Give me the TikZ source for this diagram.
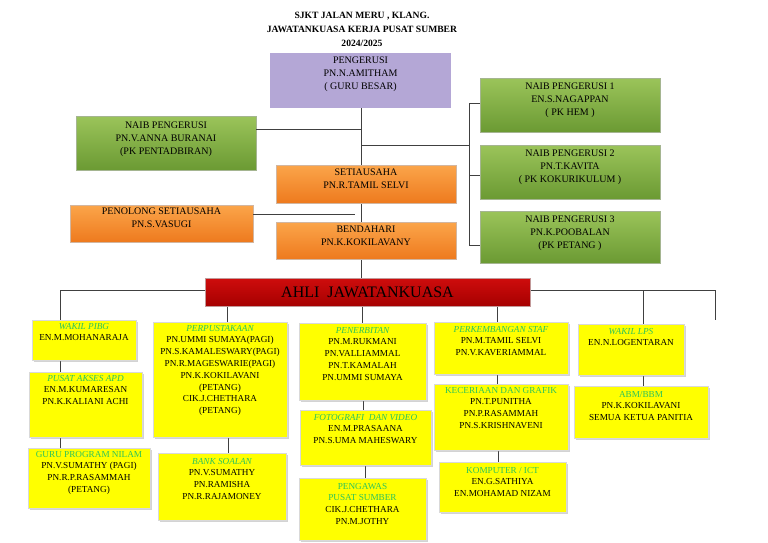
\documentclass[tikz,border=0pt]{standalone}
\usepackage{fontspec}
\setmainfont{Liberation Serif}
\usetikzlibrary{shadows}
\definecolor{yel}{HTML}{FFFF00}
\definecolor{hdg}{HTML}{2EC45A}
\definecolor{lav}{HTML}{B4A7D6}
\definecolor{gtop}{HTML}{9BC45A}
\definecolor{gbot}{HTML}{6B9A33}
\definecolor{otop}{HTML}{FBA54A}
\definecolor{obot}{HTML}{EE7A1E}
\tikzset{
 ln/.style={draw=black!75,line width=0.7pt},
 bx/.style={draw=none,inner sep=0pt},
 ybox/.style={bx,fill=yel,draw=black!15,drop shadow={shadow xshift=1.5pt,shadow yshift=-1.5pt,opacity=0.35}},
 gbox/.style={bx,top color=gtop,bottom color=gbot,draw=gbot!70!black!50},
 obox/.style={bx,top color=otop,bottom color=obot,draw=obot!60!black!40},
 txt/.style={align=center,font=\fontsize{9.4}{12}\selectfont,inner sep=0pt,anchor=north},
}
\newcommand{\bxx}[8][4]{% name style x1 y1 x2 y2 text
 \node[#3,minimum width={(#6-#4)*1pt},minimum height={(#7-#5)*1pt}] (#2) at ({(#4+#6)/2},{(#5+#7)/2}) {};
 \node[txt] (#2-t) at ([yshift=-#1pt]#2.north) {#8};}
\begin{document}
\begin{tikzpicture}[x=1pt,y=-1pt]
\useasboundingbox (0,0) rectangle (768,543);
\node[font=\bfseries\fontsize{9.6}{14}\selectfont,align=center,anchor=north] (title) at (362,9) {SJKT JALAN MERU , KLANG.\\JAWATANKUASA KERJA PUSAT SUMBER\\2024/2025};
\coordinate (v1) at (361,108);
\coordinate (v2) at (361,278);
\coordinate (hl) at (361,129);
\coordinate (hr) at (361,145);
\coordinate (br) at (469,145);
\coordinate (bt) at (469,103);
\coordinate (bb) at (469,245);
\coordinate (b2) at (469,175);
\coordinate (pe) at (355,214);
\draw[ln] (v1) -- (v2);
\draw[ln] (hr) -- (br);
\draw[ln] (bt) -- (bb);
\tikzset{txt/.append style={font=\fontsize{10}{12.8}\selectfont}}
\bxx{peng}{bx,fill=lav}{270}{53}{451}{108}{PENGERUSI\\PN.N.AMITHAM\\( GURU BESAR)}
\bxx[6]{np}{gbox}{76}{116}{256}{170}{NAIB PENGERUSI\\PN.V.ANNA BURANAI\\(PK PENTADBIRAN)}
\bxx[5]{np1}{gbox}{480}{78}{660}{132}{NAIB PENGERUSI 1\\EN.S.NAGAPPAN\\( PK HEM )}
\bxx[5]{np2}{gbox}{480}{145}{660}{199}{NAIB PENGERUSI 2\\PN.T.KAVITA\\( PK KOKURIKULUM )}
\bxx[5]{np3}{gbox}{480}{211}{660}{263}{NAIB PENGERUSI 3\\PN.K.POOBALAN\\(PK PETANG )}
\bxx{setia}{obox}{276}{165}{456}{203}{SETIAUSAHA\\PN.R.TAMIL SELVI}
\bxx[3]{pen}{obox}{70}{205}{253}{242}{PENOLONG SETIAUSAHA\\PN.S.VASUGI}
\bxx{bend}{obox}{276}{222}{456}{259}{BENDAHARI\\PN.K.KOKILAVANY}
\draw[ln] (np.east |- hl) -- (hl);
\draw[ln] (pen.east |- pe) -- (pe);
\draw[ln] (bt) -- (np1.west |- bt);
\draw[ln] (b2) -- (np2.west |- b2);
\draw[ln] (bb) -- (np3.west |- bb);
\tikzset{txt/.append style={font=\fontsize{9.2}{11.8}\selectfont}}
\coordinate (bl) at (60,290); \coordinate (brr) at (715,290);
\draw[ln] (bl) -- (brr);
\coordinate (c1) at (60,320); \coordinate (c2t) at (227,290); \coordinate (c2) at (227,322);
\coordinate (c3t) at (362,290); \coordinate (c3) at (362,323);
\coordinate (c4t) at (497,290); \coordinate (c4) at (497,322);
\coordinate (c5t) at (643,290); \coordinate (c5) at (643,324);
\coordinate (c6) at (715,320);
\draw[ln] (bl) -- (c1); \draw[ln] (c2t) -- (c2); \draw[ln] (c3t) -- (c3);
\draw[ln] (c4t) -- (c4); \draw[ln] (c5t) -- (c5); \draw[ln] (brr) -- (c6);
\draw[ln] (60,360) -- (60,372);
\draw[ln] (60,437) -- (60,448);
\draw[ln] (228,437) -- (228,453);
\draw[ln] (363,400) -- (363,410);
\draw[ln] (365,465) -- (365,478);
\draw[ln] (497,374) -- (497,384);
\draw[ln] (498,450) -- (498,462);
\draw[ln] (643,375) -- (643,386);
\node[bx,top color=red!80!black!95,bottom color=red!65!black,draw=red!40!black!40,minimum width=325pt,minimum height=28pt,font=\fontsize{16}{16}\selectfont] (ahli) at (367.5,292) {AHLI\ \ JAWATANKUASA};
\bxx[3]{pibg}{ybox}{32}{320}{136}{360}{\textcolor{hdg}{\itshape WAKIL PIBG}\\EN.M.MOHANARAJA}
\bxx[3]{apd}{ybox}{29}{372}{142}{437}{\textcolor{hdg}{\itshape PUSAT AKSES APD}\\EN.M.KUMARESAN\\PN.K.KALIANI ACHI}
\bxx[3]{nilam}{ybox}{28}{448}{150}{508}{\textcolor{hdg}{GURU PROGRAM NILAM}\\PN.V.SUMATHY (PAGI)\\PN.R.P.RASAMMAH\\(PETANG)}
\bxx[3]{perp}{ybox}{153}{322}{287}{437}{\textcolor{hdg}{\itshape PERPUSTAKAAN}\\PN.UMMI SUMAYA(PAGI)\\PN.S.KAMALESWARY(PAGI)\\PN.R.MAGESWARIE(PAGI)\\PN.K.KOKILAVANI\\(PETANG)\\CIK.J.CHETHARA\\(PETANG)}
\bxx[5]{bank}{ybox}{158}{453}{286}{520}{\textcolor{hdg}{\itshape BANK SOALAN}\\PN.V.SUMATHY\\PN.RAMISHA\\PN.R.RAJAMONEY}
\bxx[4]{pener}{ybox}{299}{323}{426}{400}{\textcolor{hdg}{\itshape PENERBITAN}\\PN.M.RUKMANI\\PN.VALLIAMMAL\\PN.T.KAMALAH\\PN.UMMI SUMAYA}
\bxx[4]{foto}{ybox}{300}{410}{431}{465}{\textcolor{hdg}{\itshape FOTOGRAFI\ \ DAN VIDEO}\\EN.M.PRASAANA\\PN.S.UMA MAHESWARY}
\bxx[5]{pengawas}{ybox}{299}{478}{426}{540}{\textcolor{hdg}{PENGAWAS}\\\textcolor{hdg}{PUSAT SUMBER}\\CIK.J.CHETHARA\\PN.M.JOTHY}
\bxx[4]{staf}{ybox}{434}{322}{568}{374}{\textcolor{hdg}{\itshape PERKEMBANGAN STAF}\\PN.M.TAMIL SELVI\\PN.V.KAVERIAMMAL}
\bxx[3]{ceria}{ybox}{434}{384}{568}{450}{\textcolor{hdg}{KECERIAAN DAN GRAFIK}\\PN.T.PUNITHA\\PN.P.RASAMMAH\\PN.S.KRISHNAVENI}
\bxx[5]{ict}{ybox}{439}{462}{566}{512}{\textcolor{hdg}{KOMPUTER / ICT}\\EN.G.SATHIYA\\EN.MOHAMAD NIZAM}
\bxx[4]{lps}{ybox}{578}{324}{684}{375}{\textcolor{hdg}{\itshape WAKIL LPS}\\EN.N.LOGENTARAN}
\bxx[5]{abm}{ybox}{574}{386}{708}{438}{\textcolor{hdg}{ABM/BBM}\\PN.K.KOKILAVANI\\SEMUA KETUA PANITIA}
\end{tikzpicture}
\end{document}
